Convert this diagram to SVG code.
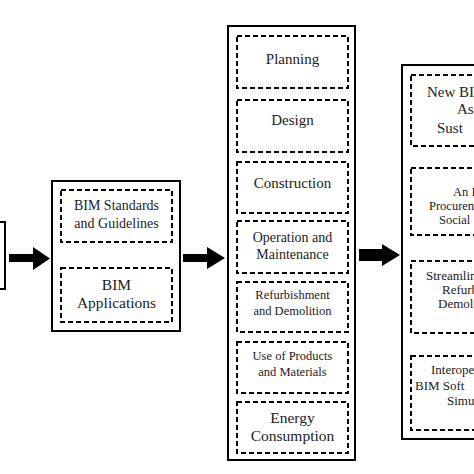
<svg xmlns="http://www.w3.org/2000/svg" width="474" height="474" viewBox="0 0 474 474">
<style>
.outer{fill:#fff;stroke:#000;stroke-width:2}
.dash{fill:none;stroke:#000;stroke-width:2;stroke-dasharray:5 3}
.t{font-family:"Liberation Serif","Times New Roman",serif;fill:#222;text-anchor:middle}
.s{font-family:"Liberation Serif","Times New Roman",serif;fill:#222;text-anchor:start}
.arrow{fill:#000}
</style>
<rect width="474" height="474" fill="#fff"/>
<g id="node-start">
<rect class="outer" x="-10" y="222" width="15" height="67"/>
</g>
<g id="node-bim">
<rect class="outer" x="52" y="181" width="128" height="150"/>
<rect class="dash" x="61" y="190" width="111" height="52"/>
<text class="t" x="116.5" y="210" font-size="14">BIM Standards</text>
<text class="t" x="116.5" y="228" font-size="14">and Guidelines</text>
<rect class="dash" x="61" y="268" width="111" height="54"/>
<text class="t" x="116.5" y="290" font-size="15.5">BIM</text>
<text class="t" x="116.5" y="308" font-size="15.5">Applications</text>
</g>
<g id="node-stages">
<rect class="outer" x="228" y="26" width="127" height="434"/>
<rect class="dash" x="237" y="36" width="111" height="52"/>
<text class="t" x="292.5" y="64" font-size="15">Planning</text>
<rect class="dash" x="237" y="100" width="111" height="52"/>
<text class="t" x="292.5" y="125" font-size="15">Design</text>
<rect class="dash" x="237" y="162" width="111" height="51"/>
<text class="t" x="292.5" y="188" font-size="15">Construction</text>
<rect class="dash" x="237" y="221" width="111" height="52"/>
<text class="t" x="292.5" y="242" font-size="14">Operation and</text>
<text class="t" x="292.5" y="259" font-size="14">Maintenance</text>
<rect class="dash" x="237" y="282" width="111" height="50"/>
<text class="t" x="292.5" y="299" font-size="12.5">Refurbishment</text>
<text class="t" x="292.5" y="315" font-size="12.5">and Demolition</text>
<rect class="dash" x="237" y="342" width="111" height="51"/>
<text class="t" x="292.5" y="360" font-size="12.5">Use of Products</text>
<text class="t" x="292.5" y="376" font-size="12.5">and Materials</text>
<rect class="dash" x="237" y="402" width="111" height="51"/>
<text class="t" x="292.5" y="423" font-size="15.5">Energy</text>
<text class="t" x="292.5" y="441" font-size="15.5">Consumption</text>
</g>
<g id="node-outcomes">
<rect class="outer" x="402" y="65" width="160" height="374"/>
<rect class="dash" x="411" y="75" width="140" height="71"/>
<text class="s" x="427" y="97" font-size="15">New BI</text>
<text class="s" x="457" y="114" font-size="15">As</text>
<text class="s" x="437" y="133" font-size="15">Sust</text>
<rect class="dash" x="411" y="168" width="140" height="67"/>
<text class="s" x="453" y="196" font-size="12.5">An I</text>
<text class="s" x="429" y="210" font-size="12.5">Procuremen</text>
<text class="s" x="439" y="224" font-size="12.5">Social</text>
<rect class="dash" x="411" y="261" width="140" height="72"/>
<text class="s" x="426" y="280" font-size="13">Streamlin</text>
<text class="s" x="442" y="294" font-size="13">Refurb</text>
<text class="s" x="438" y="308" font-size="13">Demol</text>
<rect class="dash" x="411" y="356" width="140" height="74"/>
<text class="s" x="431" y="374" font-size="13">Interope</text>
<text class="s" x="415" y="390" font-size="13">BIM Soft</text>
<text class="s" x="447" y="405" font-size="13">Simu</text>
</g>
<g id="connectors">
<polygon class="arrow" points="9,254 33,254 33,247 50,258.5 33,270 33,262 9,262"/>
<polygon class="arrow" points="183,254 207,254 207,247 225,258 207,269 207,262 183,262"/>
<polygon class="arrow" points="359,249 382,249 382,244 400,255 382,266 382,261 359,261"/>
</g>
</svg>
